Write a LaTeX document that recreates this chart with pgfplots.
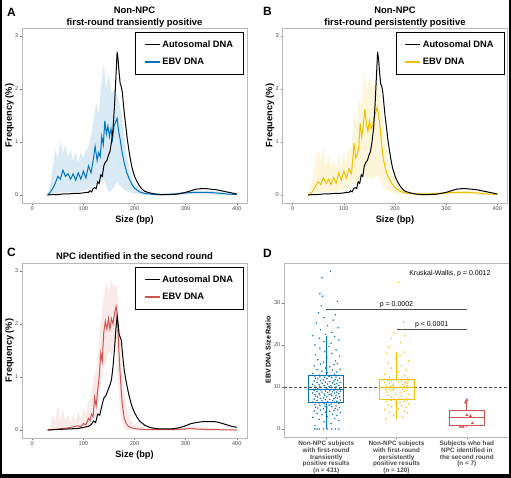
\documentclass[border=0pt]{standalone}
\usepackage{fontspec}
\setmainfont{Liberation Sans}
\usepackage{pgfplots}
\pgfplotsset{compat=1.18}
\usepgfplotslibrary{statistics}
\definecolor{jblue}{HTML}{0073C2}
\definecolor{jyellow}{HTML}{EFC000}
\definecolor{jred}{HTML}{CD534C}
\definecolor{g30}{HTML}{4D4D4D}
\pgfplotsset{
  base/.style={scale only axis, axis line style={draw=gray!55, line width=0.6pt},
    tick style={draw=g30!80, line width=0.5pt}, tick align=outside, major tick length=2pt,
    xtick pos=bottom, ytick pos=left, /pgf/number format/assume math mode=true,
    tick label style={font=\fontsize{5.6}{6}\selectfont, text=g30},
    xticklabel style={inner sep=1pt}, yticklabel style={inner sep=1.5pt}},
  freq/.style={base, width=225pt, height=175pt, xmin=-20, xmax=420, ymin=-0.15, ymax=3.15,
    xtick={0,100,200,300,400}, ytick={0,1,2,3},
    xlabel={Size (bp)}, ylabel={Frequency (\%)},
    label style={font=\bfseries\fontsize{9.2}{11}\selectfont},
    xlabel style={at={(axis description cs:0.5,-0.097)}, anchor=center},
    ylabel style={at={(axis description cs:-0.056,0.5)}, anchor=center},
    title style={font=\bfseries\fontsize{9.4}{12}\selectfont, align=center, anchor=south,
      at={(axis description cs:0.5,1)}, yshift=-6pt, inner sep=0pt},
    legend style={at={(axis description cs:1,1)}, anchor=north east, xshift=-3pt, yshift=-4pt,
      draw=black, line width=0.8pt, font=\bfseries\fontsize{9.3}{11}\selectfont,
      inner xsep=8.5pt, inner ysep=6pt, row sep=5.5pt, cells={anchor=west}},
    legend image code/.code={\draw[#1, line width=1.2pt] (0pt,0pt) -- (15pt,0pt);}},
}
\pgfplotstableread{
x y
30 0.0
40 0.01
50 0.01
60 0.02
70 0.02
80 0.03
90 0.03
100 0.04
105 0.05
110 0.05
113 0.08
116 0.06
119 0.12
122 0.14
125 0.12
128 0.25
131 0.22
134 0.38
137 0.35
140 0.55
143 0.62
146 0.65
149 0.75
152 0.82
155 1.0
158 1.25
161 1.7
164 2.3
166 2.7
168 2.55
170 2.3
172 2.1
174 2.05
176 1.95
178 1.75
180 1.55
183 1.3
186 1.05
189 0.85
192 0.67
195 0.52
198 0.42
201 0.33
205 0.25
210 0.17
215 0.11
220 0.07
230 0.04
240 0.02
250 0.01
270 0.01
280 0.015
290 0.03
300 0.05
310 0.08
320 0.11
330 0.12
340 0.12
350 0.11
360 0.1
370 0.08
380 0.06
390 0.04
400 0.02
}\autoAB
\pgfplotstableread{
x y
30 0.0
50 0.01
70 0.02
90 0.03
100 0.05
110 0.07
115 0.1
120 0.17
124 0.14
128 0.3
132 0.28
136 0.45
140 0.6
144 0.65
148 0.75
152 0.85
155 0.95
158 1.2
161 1.55
164 1.95
166 2.15
168 2.0
170 1.8
172 1.75
174 1.7
176 1.5
178 1.3
180 1.12
183 0.95
186 0.8
190 0.62
195 0.45
200 0.33
205 0.24
210 0.17
220 0.09
230 0.05
240 0.03
250 0.02
260 0.02
270 0.02
280 0.03
290 0.05
300 0.08
310 0.12
320 0.14
330 0.155
340 0.16
350 0.16
360 0.155
370 0.13
380 0.1
390 0.07
400 0.05
}\autoC
\pgfplotstableread{
x y
30 0.0
35 0.05
40 0.12
45 0.22
50 0.35
55 0.30
60 0.47
65 0.35
70 0.40
75 0.30
80 0.40
85 0.28
90 0.42
95 0.30
100 0.45
105 0.32
110 0.55
115 0.42
120 0.70
123 0.92
127 0.65
130 0.80
133 0.72
136 1.10
139 0.95
142 1.40
145 1.15
148 1.30
151 1.10
154 1.25
157 1.05
160 1.30
163 1.38
166 1.45
169 1.20
172 1.05
175 0.85
180 0.60
185 0.42
190 0.30
195 0.20
200 0.13
210 0.06
220 0.03
240 0.01
260 0.01
280 0.02
300 0.04
320 0.05
340 0.05
360 0.04
380 0.02
400 0.01
}\ebvA
\pgfplotstableread{
x y
30 0
35 0.03
40 0.08
45 0.18
50 0.25
55 0.2
60 0.33
65 0.22
70 0.3
75 0.2
80 0.33
85 0.22
90 0.42
95 0.28
100 0.45
105 0.32
110 0.5
115 0.4
120 0.98
123 0.7
126 0.75
129 0.9
132 1.35
135 1.1
138 1.3
141 1.62
144 1.35
147 1.2
150 1.4
153 1.25
156 1.3
159 1.45
162 1.55
165 1.65
168 1.5
171 1.25
174 0.95
177 0.7
180 0.55
185 0.38
190 0.28
195 0.2
200 0.14
210 0.07
220 0.04
240 0.02
260 0.02
280 0.03
300 0.04
320 0.05
340 0.05
360 0.04
380 0.02
400 0.01
}\ebvB
\pgfplotstableread{
x y
30 0.0
40 0.01
50 0.02
60 0.03
70 0.04
80 0.06
90 0.08
95 0.06
100 0.12
105 0.1
110 0.22
113 0.18
116 0.3
119 0.25
122 0.62
125 0.45
128 0.75
131 1.0
134 1.45
137 1.3
140 1.85
143 2.05
146 1.9
149 2.1
152 1.9
155 2.1
158 2.0
161 2.2
164 2.33
166 2.2
168 1.8
170 1.4
172 1.05
174 0.75
176 0.5
178 0.35
180 0.22
184 0.12
188 0.07
195 0.04
205 0.02
220 0.01
250 0.01
280 0.01
300 0.02
310 0.03
320 0.02
340 0.01
400 0.0
}\ebvC
\begin{document}
\begin{tikzpicture}
\useasboundingbox (0,0) rectangle (511pt,478pt);
\fill[white] (0,0) rectangle (511pt,478pt);
% ---------------- A
\begin{axis}[freq, at={(22pt,275pt)}, anchor=south west,
  title={Non-NPC\\first-round transiently positive}]
\addlegendimage{black}\addlegendentry{Autosomal DNA}
\addlegendimage{jblue}\addlegendentry{EBV DNA}
\addplot[draw=none, fill=jblue, fill opacity=0.15, forget plot] coordinates {
(30,0) (35,0.2) (40,0.5) (45,0.85) (50,0.7) (55,1.0) (60,0.8) (65,0.95) (70,0.7) (75,0.85) (80,0.65) (85,0.8) (90,0.6) (95,0.8) (100,0.7) (105,0.85) (110,0.9) (115,1.1) (120,1.4) (125,1.75) (130,1.5) (135,2.1) (140,2.45) (145,2.0) (150,2.3) (155,1.9) (160,2.0) (165,1.9) (170,1.75) (175,1.5) (180,1.1) (185,0.75) (190,0.5) (195,0.35) (200,0.22) (210,0.12) (220,0.06) (240,0.03) (280,0.04) (320,0.08) (360,0.07) (400,0.03)
(400,0) (360,0.01) (320,0.02) (280,0) (240,0) (220,0) (200,0.03) (190,0.05) (180,0.1) (170,0.2) (165,0.25) (160,0.15) (155,0.1) (150,0.05) (145,0.15) (140,0.3) (135,0.25) (130,0.25) (125,0.2) (120,0.15) (110,0.1) (100,0.08) (90,0.06) (80,0.06) (70,0.05) (60,0.05) (50,0.04) (40,0.02) (30,0)};
\addplot[jblue, line width=1pt, forget plot] table {\ebvA};
\addplot[black, line width=1pt, forget plot] table {\autoAB};
\end{axis}
% ---------------- B
\begin{axis}[freq, at={(282.5pt,275pt)}, anchor=south west,
  title={Non-NPC\\first-round persistently positive}]
\addlegendimage{black}\addlegendentry{Autosomal DNA}
\addlegendimage{jyellow}\addlegendentry{EBV DNA}
\addplot[draw=none, fill=jyellow, fill opacity=0.15, forget plot] coordinates {
(30,0) (35,0.15) (40,0.4) (45,0.7) (50,0.85) (55,0.6) (60,0.9) (65,0.55) (70,0.75) (75,0.5) (80,0.7) (85,0.5) (90,0.75) (95,0.55) (100,0.8) (105,0.6) (110,0.9) (115,0.85) (120,1.5) (125,1.3) (130,1.8) (135,1.7) (140,2.35) (145,2.0) (150,2.25) (155,2.0) (160,2.1) (165,2.25) (170,1.9) (175,1.5) (180,1.1) (185,0.75) (190,0.5) (195,0.35) (200,0.25) (210,0.13) (220,0.07) (240,0.04) (280,0.05) (320,0.09) (360,0.08) (400,0.03)
(400,0) (360,0.01) (320,0.02) (280,0) (240,0) (220,0.01) (200,0.03) (190,0.06) (180,0.12) (170,0.3) (165,0.4) (160,0.3) (155,0.3) (150,0.35) (145,0.3) (140,0.4) (135,0.35) (130,0.3) (125,0.2) (120,0.25) (110,0.12) (100,0.1) (90,0.08) (80,0.06) (70,0.05) (60,0.05) (50,0.03) (40,0.01) (30,0)};
\addplot[jyellow, line width=1pt, forget plot] table {\ebvB};
\addplot[black, line width=1pt, forget plot] table {\autoAB};
\end{axis}
% ---------------- C
\begin{axis}[freq, at={(22pt,40pt)}, anchor=south west,
  title={NPC identified in the second round}, title style={yshift=3pt}]
\addlegendimage{black}\addlegendentry{Autosomal DNA}
\addlegendimage{jred}\addlegendentry{EBV DNA}
\addplot[draw=none, fill=jred, fill opacity=0.12, forget plot] coordinates {
(30,0) (35,0.05) (40,0.3) (45,0.15) (50,0.45) (55,0.2) (60,0.4) (65,0.15) (70,0.3) (75,0.12) (80,0.3) (85,0.15) (90,0.35) (95,0.2) (100,0.4) (105,0.3) (110,0.55) (115,0.6) (120,1.0) (125,1.1) (130,1.6) (135,2.1) (140,2.5) (145,2.8) (150,2.6) (155,2.85) (160,2.7) (165,2.75) (168,2.4) (171,1.9) (174,1.4) (177,1.0) (180,0.7) (185,0.4) (190,0.22) (200,0.1) (220,0.04) (260,0.03) (300,0.06) (320,0.07) (360,0.03) (400,0.01)
(400,0) (300,0) (220,0) (200,0) (190,0) (185,0) (180,0.02) (177,0.1) (174,0.2) (171,0.5) (168,0.9) (165,1.5) (160,1.6) (155,1.4) (150,1.5) (145,1.3) (140,1.2) (135,0.9) (130,0.6) (125,0.2) (120,0.3) (115,0.1) (110,0.05) (100,0.02) (80,0.01) (30,0)};
\addplot[jred, line width=1pt, forget plot] table {\ebvC};
\addplot[black, line width=1pt, forget plot] table {\autoC};
\end{axis}
% ---------------- D
\begin{axis}[base, at={(284pt,41pt)}, anchor=south west, width=225pt, height=174pt,
  xmin=0.4, xmax=3.6, ymin=-1.9, ymax=39.5, ytick={0,10,20,30}, xtick={1,2,3},
  boxplot/draw direction=y,
  xticklabels={{Non-NPC subjects\\with first-round\\transiently\\positive results\\(n = 431)},
    {Non-NPC subjects\\with first-round\\persistently\\positive results\\(n = 120)},
    {Subjects who had\\NPC identified in\\the second round\\(n = 7)}},
  xticklabel style={align=center, font=\bfseries\fontsize{6.4}{6.7}\selectfont, text=g30, yshift=-1pt},
  ylabel={EBV DNA Size Ratio}, ylabel style={font=\bfseries\fontsize{7}{8}\selectfont,
    at={(axis description cs:-0.071,0.5)}, anchor=center}]
\addplot[gray!60!black, line width=0.7pt, dash pattern=on 3pt off 2pt] coordinates {(0.4,10) (3.6,10)};
\addplot[jblue, line width=0.7pt, boxplot prepared={draw position=1, lower whisker=0, lower quartile=6.3, median=9.45, upper quartile=12.85, upper whisker=22.2, box extend=0.5, whisker extend=0}] coordinates {};
\addplot[jyellow, line width=0.7pt, boxplot prepared={draw position=2, lower whisker=2.4, lower quartile=7.1, median=9.9, upper quartile=11.7, upper whisker=18.3, box extend=0.5, whisker extend=0}] coordinates {};
\addplot[jred, line width=0.7pt, boxplot prepared={draw position=3, lower whisker=0.5, lower quartile=0.9, median=2.75, upper quartile=4.5, upper whisker=7.2, box extend=0.5, whisker extend=0}] coordinates {};
\addplot[only marks, mark=*, mark size=0.6pt, color=jblue, mark options={line width=0.2pt}] coordinates {
(0.84,0) (0.90,0) (0.96,0) (1.02,0) (1.08,0) (1.13,0) (1.18,0) (0.87,0)
(0.84,0.8) (1.07,1.3) (0.97,1.7) (1.18,2.0) (0.90,2.3) (1.12,2.5) (0.81,2.8) (1.02,3.0) (1.15,3.2) (0.94,3.4) (1.09,3.5) (0.87,3.7) (1.20,3.9) (0.99,4.0) (1.05,4.2) (0.83,4.3) (1.11,4.4) (0.92,4.5) (1.16,4.6) (0.96,4.8) (1.13,4.9) (0.88,5.0) (1.01,5.05) (1.19,5.1) (0.85,5.2) (1.08,5.3) (0.98,5.4) (1.14,5.5) (0.91,5.6) (1.04,5.7) (0.84,5.8) (1.07,5.9) (0.97,6.0) (1.18,6.1) (0.90,6.2)
(1.12,6.35) (0.81,6.4) (1.02,6.5) (1.15,6.6) (0.94,6.7) (1.09,6.75) (0.87,6.8) (1.20,6.9) (0.99,7.0) (1.05,7.05) (0.83,7.1) (1.11,7.2) (0.92,7.3) (1.16,7.35) (0.96,7.4) (1.13,7.5) (0.88,7.6) (1.01,7.65) (1.19,7.7) (0.85,7.8) (1.08,7.9) (0.98,7.95) (1.14,8.0) (0.91,8.1) (1.04,8.15) (0.84,8.2) (1.07,8.3) (0.97,8.35) (1.18,8.4) (0.90,8.5) (1.12,8.55) (0.81,8.6) (1.02,8.7) (1.15,8.75) (0.94,8.8) (1.09,8.9) (0.87,8.95) (1.20,9.0) (0.99,9.05) (1.05,9.1) (0.83,9.2) (1.11,9.25) (0.92,9.3) (1.16,9.35) (0.96,9.4)
(1.13,9.5) (0.88,9.6) (1.01,9.65) (1.19,9.7) (0.85,9.8) (1.08,9.85) (0.98,9.9) (1.14,10.0) (0.91,10.05) (1.04,10.1) (0.84,10.2) (1.07,10.3) (0.97,10.35) (1.18,10.4) (0.90,10.5) (1.12,10.6) (0.81,10.65) (1.02,10.7) (1.15,10.8) (0.94,10.9) (1.09,11.0) (0.87,11.05) (1.20,11.1) (0.99,11.2) (1.05,11.3) (0.83,11.4) (1.11,11.45) (0.92,11.5) (1.16,11.6) (0.96,11.7) (1.13,11.8) (0.88,11.9) (1.01,12.0) (1.19,12.05) (0.85,12.1) (1.08,12.2) (0.98,12.3) (1.14,12.35) (0.91,12.4) (1.04,12.5) (0.84,12.6) (1.07,12.65) (0.97,12.7) (1.18,12.75) (0.90,12.8)
(1.12,13.0) (0.81,13.2) (1.02,13.4) (1.15,13.6) (0.94,13.8) (1.09,14.0) (0.87,14.1) (1.20,14.2) (0.99,14.5) (1.05,14.8) (0.83,15.0) (1.11,15.3) (0.92,15.5) (1.16,15.6) (0.96,15.9) (1.13,16.2) (0.88,16.5) (1.01,16.9) (1.19,17.3) (0.85,17.6) (1.08,18.0) (0.98,18.4) (1.14,18.8) (0.91,19.2) (1.04,19.6) (0.84,20.0) (1.07,20.4) (0.97,20.8) (1.18,21.2) (0.90,21.6) (1.12,22.0) (0.81,22.2)
(0.99,22.5) (1.08,23.0) (0.92,23.6) (1.17,24.1) (1.02,24.6) (0.86,25.2) (1.10,25.9) (0.97,26.5) (1.13,27.2) (0.89,27.7) (1.05,28.4) (0.93,29.3) (1.16,30.4) (0.95,31.6) (0.91,32.2) (0.94,36.0) (1.06,37.5)};
\addplot[only marks, mark=*, mark size=0.6pt, color=jyellow, mark options={line width=0.2pt}] coordinates {
(1.85,2.4) (2.09,2.8) (1.96,3.3) (2.16,3.8) (1.90,4.0) (2.12,4.2) (1.83,4.6) (2.03,4.9) (2.14,5.1) (1.93,5.3) (2.07,5.5) (1.88,5.7) (2.17,5.9) (1.99,6.1) (2.05,6.3) (1.86,6.5) (2.11,6.6) (1.92,6.8) (2.15,6.9) (1.95,7.0)
(2.03,7.2) (2.14,7.4) (1.93,7.6) (2.07,7.8) (1.88,8.0) (2.17,8.2) (1.99,8.4) (2.05,8.6) (1.86,8.8) (2.11,9.0) (1.92,9.1) (2.15,9.2) (1.95,9.3) (1.85,9.4) (2.09,9.5) (1.96,9.6) (2.16,9.7) (1.90,9.75) (2.12,9.8) (1.83,9.85)
(1.99,9.95) (2.05,10.0) (1.86,10.05) (2.11,10.1) (1.92,10.2) (2.15,10.3) (1.95,10.4) (1.85,10.5) (2.09,10.6) (1.96,10.7) (2.16,10.8) (1.90,10.9) (2.12,11.0) (1.83,11.1) (2.03,11.2) (2.14,11.3) (1.93,11.4) (2.07,11.5) (1.88,11.6) (2.17,11.65)
(2.16,11.9) (1.90,12.3) (2.12,12.7) (1.83,13.1) (2.03,13.6) (2.14,14.0) (1.93,14.5) (2.07,15.0) (1.88,15.6) (2.17,16.2) (1.99,16.9) (2.05,17.5) (1.86,18.0) (2.11,18.3)
(1.89,19.5) (2.06,20.6) (1.93,21.5) (2.12,22.2) (1.97,22.7) (2.10,25.5) (2.03,34.8)};
\addplot[only marks, mark=triangle*, mark size=1.3pt, color=jred] coordinates {
(3.00,6.9) (2.98,6.3) (3.00,3.3) (3.05,3.1) (2.91,0.55) (2.95,0.55) (3.08,1.4)};
\addplot[g30, line width=0.8pt] coordinates {(1,28.5) (3,28.5)};
\addplot[g30, line width=0.8pt] coordinates {(2,23.6) (3,23.6)};
\node[anchor=south, font=\fontsize{7}{8}\selectfont, inner sep=1pt] at (axis cs:2,28.6) {p = 0.0002};
\node[anchor=south, font=\fontsize{7}{8}\selectfont, inner sep=1pt] at (axis cs:2.5,23.7) {p < 0.0001};
\node[anchor=east, font=\fontsize{7}{8}\selectfont, inner sep=0pt] at (axis cs:3.34,36.9) {Kruskal-Wallis, p = 0.0012};
\end{axis}
% panel letters
\node[anchor=base west, inner sep=0pt, font=\bfseries\fontsize{12}{14}\selectfont] at (7pt,461pt) {A};
\node[anchor=base west, inner sep=0pt, font=\bfseries\fontsize{12}{14}\selectfont] at (263pt,462pt) {B};
\node[anchor=base west, inner sep=0pt, font=\bfseries\fontsize{12}{14}\selectfont] at (7pt,221pt) {C};
\node[anchor=base west, inner sep=0pt, font=\bfseries\fontsize{12}{14}\selectfont] at (263pt,220pt) {D};
% outer frame
\fill[black] (0,0) rectangle (511pt,4pt);
\fill[black] (0,0) rectangle (2pt,478pt);
\fill[black] (509pt,0) rectangle (511pt,478pt);
\end{tikzpicture}
\end{document}
